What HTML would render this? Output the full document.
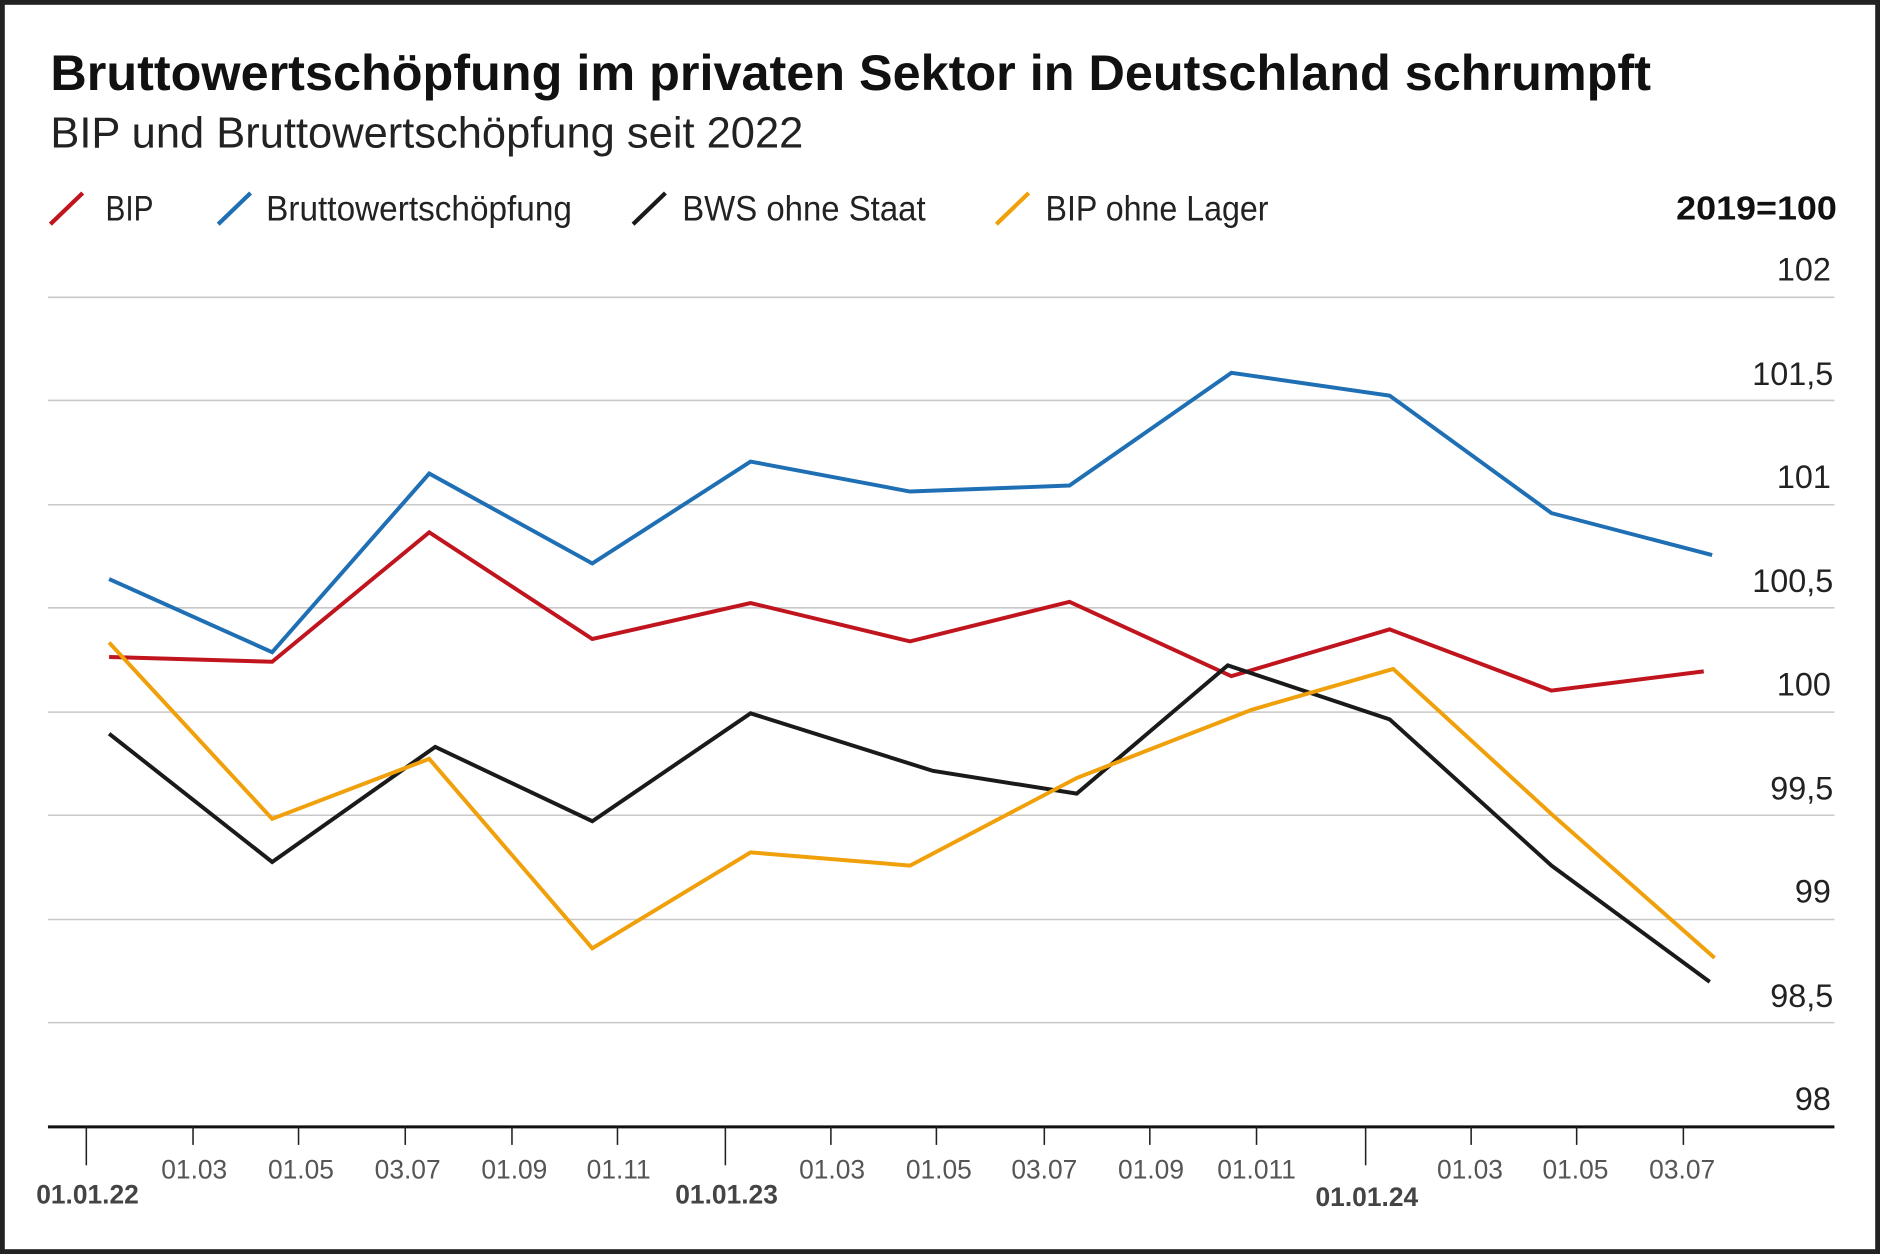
<!DOCTYPE html>
<html><head><meta charset="utf-8"><style>html,body{margin:0;padding:0;background:#fff}svg{display:block}</style></head>
<body>
<svg width="1880" height="1254" viewBox="0 0 1568 1046" preserveAspectRatio="none" xmlns="http://www.w3.org/2000/svg" font-family="Liberation Sans, sans-serif">
<rect x="0" y="0" width="1568" height="1046" fill="#fff"/>
<rect x="2" y="2" width="1564" height="1042" fill="none" stroke="#222" stroke-width="4"/>
<text x="42" y="75" font-size="42" font-weight="bold" textLength="1335" lengthAdjust="spacingAndGlyphs" fill="#111">Bruttowertschöpfung im privaten Sektor in Deutschland schrumpft</text>
<text x="42" y="123" font-size="36" textLength="628" lengthAdjust="spacingAndGlyphs" fill="#222">BIP und Bruttowertschöpfung seit 2022</text>
<g stroke-width="3.5">
<line x1="42" y1="187" x2="69" y2="161" stroke="#c0151e"/>
<line x1="182" y1="187" x2="209" y2="161" stroke="#1f6fb5"/>
<line x1="528" y1="187" x2="555" y2="161" stroke="#1a1a1a"/>
<line x1="831" y1="187" x2="858" y2="161" stroke="#f0a00a"/>
</g>
<g font-size="29" fill="#222">
<text x="88" y="184" textLength="40" lengthAdjust="spacingAndGlyphs">BIP</text>
<text x="222" y="184" textLength="255" lengthAdjust="spacingAndGlyphs">Bruttowertschöpfung</text>
<text x="569" y="184" textLength="203" lengthAdjust="spacingAndGlyphs">BWS ohne Staat</text>
<text x="872" y="184" textLength="186" lengthAdjust="spacingAndGlyphs">BIP ohne Lager</text>
</g>
<text x="1532" y="183" font-size="28" font-weight="bold" text-anchor="end" textLength="134" lengthAdjust="spacingAndGlyphs" fill="#111">2019=100</text>
<g stroke="#c8c8c8" stroke-width="1.3">
<line x1="40" y1="248" x2="1530" y2="248"/><line x1="40" y1="334" x2="1530" y2="334"/>
<line x1="40" y1="421" x2="1530" y2="421"/><line x1="40" y1="507" x2="1530" y2="507"/>
<line x1="40" y1="594" x2="1530" y2="594"/><line x1="40" y1="680" x2="1530" y2="680"/>
<line x1="40" y1="767" x2="1530" y2="767"/><line x1="40" y1="853" x2="1530" y2="853"/>
</g>
<line x1="40" y1="940" x2="1530" y2="940" stroke="#111" stroke-width="2.5"/>
<g font-size="27" fill="#222" text-anchor="end">
<text x="1527" y="234">102</text><text x="1529" y="321">101,5</text>
<text x="1527" y="407">101</text><text x="1529" y="494">100,5</text>
<text x="1527" y="580">100</text><text x="1529" y="667">99,5</text>
<text x="1527" y="753">99</text><text x="1529" y="840">98,5</text>
<text x="1527" y="926">98</text>
</g>
<g stroke="#222" stroke-width="1.3">
<line x1="72" y1="940" x2="72" y2="972"/><line x1="605" y1="940" x2="605" y2="972"/><line x1="1139" y1="940" x2="1139" y2="972"/>
<line x1="161" y1="940" x2="161" y2="955"/><line x1="249" y1="940" x2="249" y2="955"/><line x1="338" y1="940" x2="338" y2="955"/>
<line x1="427" y1="940" x2="427" y2="955"/><line x1="515" y1="940" x2="515" y2="955"/><line x1="693" y1="940" x2="693" y2="955"/>
<line x1="781" y1="940" x2="781" y2="955"/><line x1="871" y1="940" x2="871" y2="955"/><line x1="959" y1="940" x2="959" y2="955"/>
<line x1="1048" y1="940" x2="1048" y2="955"/><line x1="1227" y1="940" x2="1227" y2="955"/><line x1="1315" y1="940" x2="1315" y2="955"/>
<line x1="1404" y1="940" x2="1404" y2="955"/>
</g>
<g font-size="22" fill="#555" text-anchor="middle">
<text x="162" y="983">01.03</text><text x="251" y="983">01.05</text><text x="340" y="983">03.07</text>
<text x="429" y="983">01.09</text><text x="516" y="983">01.11</text><text x="694" y="983">01.03</text>
<text x="783" y="983">01.05</text><text x="871" y="983">03.07</text><text x="960" y="983">01.09</text>
<text x="1048" y="983">01.011</text><text x="1226" y="983">01.03</text><text x="1314" y="983">01.05</text>
<text x="1403" y="983">03.07</text>
</g>
<g font-size="22" font-weight="bold" fill="#444" text-anchor="middle">
<text x="73" y="1004">01.01.22</text><text x="606" y="1004">01.01.23</text><text x="1140" y="1006">01.01.24</text>
</g>
<g fill="none" stroke-width="3.3" stroke-linejoin="miter">
<polyline stroke="#1f6fb5" points="91,483 227,544 358,395 494,470 626,385 759,410 892,405 1027,311 1159,330 1294,428 1428,463"/>
<polyline stroke="#c0151e" points="91,548 227,552 358,444 494,533 626,503 759,535 892,502 1027,564 1159,525 1294,576 1421,560"/>
<polyline stroke="#1a1a1a" points="91,612 227,719 363,623 494,685 626,595 778,643 898,662 1024,555 1159,600 1294,722 1426,819"/>
<polyline stroke="#f0a00a" points="91,536 227,683 358,633 494,791 626,711 759,722 898,649 1044,592 1162,558 1294,679 1430,799"/>
</g>
</svg>
</body></html>
